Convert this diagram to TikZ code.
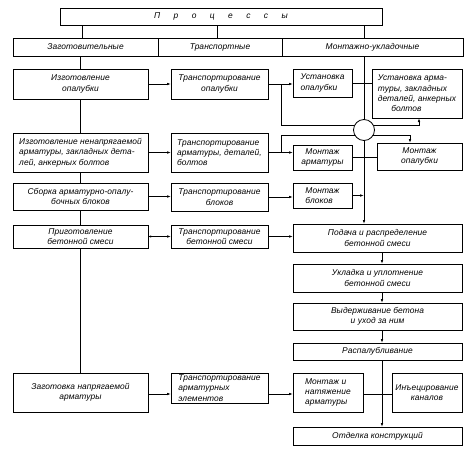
\documentclass[tikz,border=0pt]{standalone}
\usepackage{fontspec}
\newfontfamily\gost[LetterSpace=1]{Liberation Sans}
\usetikzlibrary{arrows.meta,calc}
\newcommand\bx[7][]{\node[box,#1,minimum width={(#5-#3)*1pt},minimum height={(#6-#4)*1pt}] (#2) at ({(#3+#5)/2},{(#4+#6)/2}) {#7};}
\begin{document}
\begin{tikzpicture}[x=1pt,y=-1pt,
  box/.style={draw,line width=1pt,inner sep=1pt,outer sep=0pt,align=center,
    font=\gost\itshape\fontsize{8.4}{10.3}\selectfont},
  ln/.style={line width=0.75pt},
  arr/.style={ln,-{Latex[length=4pt,width=2.6pt]}},
  darr/.style={ln,{Latex[length=3pt,width=2.2pt]}-{Latex[length=4pt,width=2.6pt]}}]
\useasboundingbox (0,0) rectangle (474,461);
% boxes
\bx{P}{60}{8}{382}{25}{П\hspace{1.6em}р\hspace{1.6em}о\hspace{1.6em}ц\hspace{1.6em}е\hspace{1.6em}с\hspace{1.6em}с\hspace{1.6em}ы}
\bx{H1}{13}{38}{158}{56}{Заготовительные}
\bx{H2}{158}{38}{282}{56}{Транспортные}
\bx{H3}{282}{38}{463}{56}{Монтажно-укладочные}
\bx{A1}{13}{69}{148}{99}{Изготовление\\опалубки}
\bx{A2}{171}{69}{268}{99}{Транспортирование\\опалубки}
\bx[align=left]{A3}{293}{69}{352}{97}{Установка\\опалубки}
\bx[align=left]{A4}{372}{69}{462}{118}{Установка арма-\\туры, закладных\\деталей, анкерных\\\hspace*{1.6em}болтов}
\bx[align=left]{B1}{13}{133}{148}{172}{Изготовление ненапрягаемой\\арматуры, закладных дета-\\лей, анкерных болтов}
\bx[align=left]{B2}{171}{133}{268}{172}{Транспортирование\\арматуры, деталей,\\болтов}
\bx{B3}{293}{145}{352}{170}{Монтаж\\арматуры}
\bx{B4}{377}{143}{462}{170}{Монтаж\\опалубки}
\bx{C1}{13}{183}{148}{210}{Сборка арматурно-опалу-\\бочных блоков}
\bx{C2}{171}{183}{268}{211}{Транспортирование\\блоков}
\bx[align=left]{C3}{293}{183}{352}{208}{Монтаж\\блоков}
\bx{D1}{13}{225}{148}{248}{Приготовление\\бетонной смеси}
\bx{D2}{171}{225}{268}{248}{Транспортирование\\бетонной смеси}
\bx{D3}{293}{224}{462}{252}{Подача и распределение\\бетонной смеси}
\bx{E}{293}{264}{462}{292}{Укладка и уплотнение\\бетонной смеси}
\bx{F}{293}{303}{462}{330}{Выдерживание бетона\\и уход за ним}
\bx{G}{293}{343}{462}{360}{Распалубливание}
\bx{K1}{13}{373}{148}{412}{Заготовка напрягаемой\\арматуры}
\bx[align=left]{K2}{171}{373}{268}{403}{Транспортирование\\арматурных\\элементов}
\bx[align=left]{K3}{293}{373}{363}{412}{Монтаж и\\натяжение\\арматуры}
\bx{K4}{392}{373}{462}{412}{Инъецирование\\каналов}
\bx{L}{293}{427}{462}{445}{Отделка конструкций}
% helper coordinates
\coordinate (xa) at (82,0);
\coordinate (xb) at (217,0);
\coordinate (xm) at (364,0);
\coordinate (xl) at (80,0);
\coordinate (xj) at (281,0);
\coordinate (xc) at (382,0);
\coordinate (pa) at (281,125);
\coordinate (pa2) at (419,125);
\coordinate (pb) at (281,135);
\coordinate (pb2) at (410,135);
\coordinate (yk) at (0,394);
% header links
\draw[ln] (P.south -| xa) -- (H1.north -| xa);
\draw[ln] (P.south -| xb) -- (H2.north -| xb);
\draw[ln] (P.south -| xm) -- (H3.north -| xm);
% left column
\draw[ln] (H1.south -| xl) -- (A1.north -| xl);
\draw[ln] (A1.south -| xl) -- (B1.north -| xl);
\draw[ln] (B1.south -| xl) -- (C1.north -| xl);
\draw[ln] (C1.south -| xl) -- (D1.north -| xl);
\draw[ln] (D1.south -| xl) -- (K1.north -| xl);
% rows
\draw[arr] (A1.east) -- (A1.east -| A2.west);
\draw[arr] (A2.east) -- (A2.east -| A3.west);
\draw[ln] (A3.east) -- (A3.east -| A4.west);
\draw[arr] (B1.east) -- (B1.east -| B2.west);
\draw[arr] (B2.east) -- (B2.east -| B3.west);
\draw[ln] (B3.east) -- (B3.east -| B4.west);
\draw[arr] (C1.east) -- (C1.east -| C2.west);
\draw[arr] (C2.east) -- (C2.east -| C3.west);
\draw[arr] (C3.east) -- (C3.east -| xm);
\draw[darr] (D1.east) -- (D1.east -| D2.west);
\draw[arr] (D2.east) -- (D2.east -| D3.west);
\draw[arr] (K1.east |- yk) -- (K2.west |- yk);
\draw[arr] (K2.east |- yk) -- (K3.west |- yk);
\draw[ln] (K3.east |- yk) -- (K4.west |- yk);
% branch paths through crossing
\draw[arr] (A2.east -| xj) -- (pa) -- (pa2) -- (A4.south -| pa2);
\draw[arr] (B2.east -| xj) -- (pb) -- (pb2) -- (B4.north -| pb2);
% main vertical
\draw[arr] (H3.south -| xm) -- (D3.north -| xm);
\node[draw,circle,fill=white,line width=0.8pt,minimum size=21pt,inner sep=0pt] (cr) at (364,130) {};
% right chain
\draw[arr] (D3.south -| xc) -- (E.north -| xc);
\draw[arr] (E.south -| xc) -- (F.north -| xc);
\draw[arr] (F.south -| xc) -- (G.north -| xc);
\draw[arr] (G.south -| xc) -- (L.north -| xc);
\end{tikzpicture}
\end{document}
